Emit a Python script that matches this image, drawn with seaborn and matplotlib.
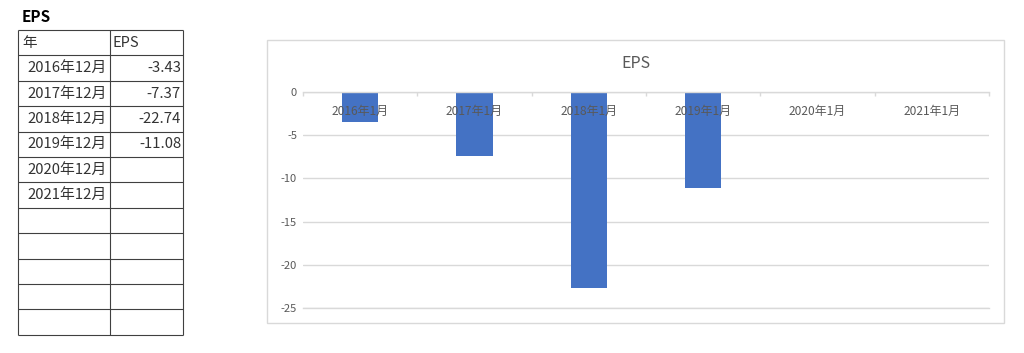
import numpy as np
import pandas as pd
import matplotlib
matplotlib.use("Agg")
import matplotlib.pyplot as plt
import matplotlib.transforms as mtransforms
from matplotlib.patches import Rectangle
import seaborn as sns

# ---- data ----
categories = ["2016年1月", "2017年1月", "2018年1月", "2019年1月", "2020年1月", "2021年1月"]
eps_values = [-3.43, -7.37, -22.74, -11.08, np.nan, np.nan]
table_years = ["2016年12月", "2017年12月", "2018年12月", "2019年12月", "2020年12月", "2021年12月"]
table_eps = [-3.43, -7.37, -22.74, -11.08, None, None]
table_header = ["年", "EPS"]
y_ticks = [0, -5, -10, -15, -20, -25]
chart_title = "EPS"
sheet_title = "EPS"

sns.set_theme(style="white")
plt.rcParams["font.family"] = ["Noto Sans CJK JP", "DejaVu Sans"]

W, H = 1024, 353
fig = plt.figure(figsize=(W / 100, H / 100), dpi=100)
fig.patch.set_facecolor("white")

# background axes in pixel coordinates for table and chart frame
bg = fig.add_axes([0, 0, 1, 1])
bg.set_xlim(0, W)
bg.set_ylim(H, 0)
bg.axis("off")

# ---- table ----
bg.text(22, 17, sheet_title, ha="left", va="center", fontsize=11,
        fontweight="bold", color="black")
tbl_top, row_h, n_rows = 30, 25.4, 12
col_x = [18, 110, 183]
ys = [tbl_top + row_h * k for k in range(n_rows + 1)]
bg.hlines(ys, col_x[0], col_x[-1], color="#404040", lw=0.8)
bg.vlines(col_x, ys[0], ys[-1], color="#404040", lw=0.8)
txt_col = "#333333"
bg.text(22, tbl_top + row_h * 0.5, table_header[0], ha="left", va="center",
        fontsize=10.5, color=txt_col)
bg.text(113, tbl_top + row_h * 0.5, table_header[1], ha="left", va="center",
        fontsize=10.5, color=txt_col)
for i, (yr, v) in enumerate(zip(table_years, table_eps)):
    yc = tbl_top + row_h * (i + 1.5)
    bg.text(27, yc, yr, ha="left", va="center", fontsize=10.7, color=txt_col)
    if v is not None:
        bg.text(181, yc, f"{v:.2f}", ha="right", va="center", fontsize=10.7,
                color=txt_col)

# ---- chart frame and title ----
bg.add_patch(Rectangle((267, 40), 737, 283, fill=False, ec="#d9d9d9", lw=1))
bg.text(635.5, 64, chart_title, ha="center", va="center", fontsize=11.5,
        color="#595959")

# ---- chart ----
ax = fig.add_axes([303 / W, (H - 307.7) / H, 686 / W, 215.4 / H])
df = pd.DataFrame({"cat": categories, "eps": eps_values})
sns.barplot(data=df, x="cat", y="eps", order=categories, color="#4472C4",
            width=0.315, saturation=1, errorbar=None, linewidth=0, ax=ax)
ax.set_xlim(-0.5, len(categories) - 0.5)
ax.set_ylim(-25, 0)
ax.set_xlabel("")
ax.set_ylabel("")
ax.set_yticks(y_ticks)
ax.set_yticklabels([str(t) for t in y_ticks])
ax.tick_params(axis="y", length=0, pad=4.3, labelsize=8, labelcolor="#595959")
ax.yaxis.grid(True, color="#d9d9d9", lw=1)
ax.set_axisbelow(True)
for s in ["left", "right"]:
    ax.spines[s].set_visible(False)
for s in ["top", "bottom"]:
    ax.spines[s].set_color("#d9d9d9")
    ax.spines[s].set_linewidth(1)

ax.xaxis.tick_top()
ax.set_xticks(np.arange(-0.5, len(categories), 1))
ax.set_xticklabels([])
ax.tick_params(axis="x", direction="in", length=3, color="#d9d9d9", width=1,
               top=True, bottom=False)

off = mtransforms.offset_copy(ax.transData, fig=fig, x=0, y=-19, units="dots")
for i, c in enumerate(categories):
    ax.text(i, 0, c, transform=off, ha="center", va="center", fontsize=8.6,
            color="#595959", zorder=5)

fig.savefig("out.png", dpi=100, facecolor="white")
